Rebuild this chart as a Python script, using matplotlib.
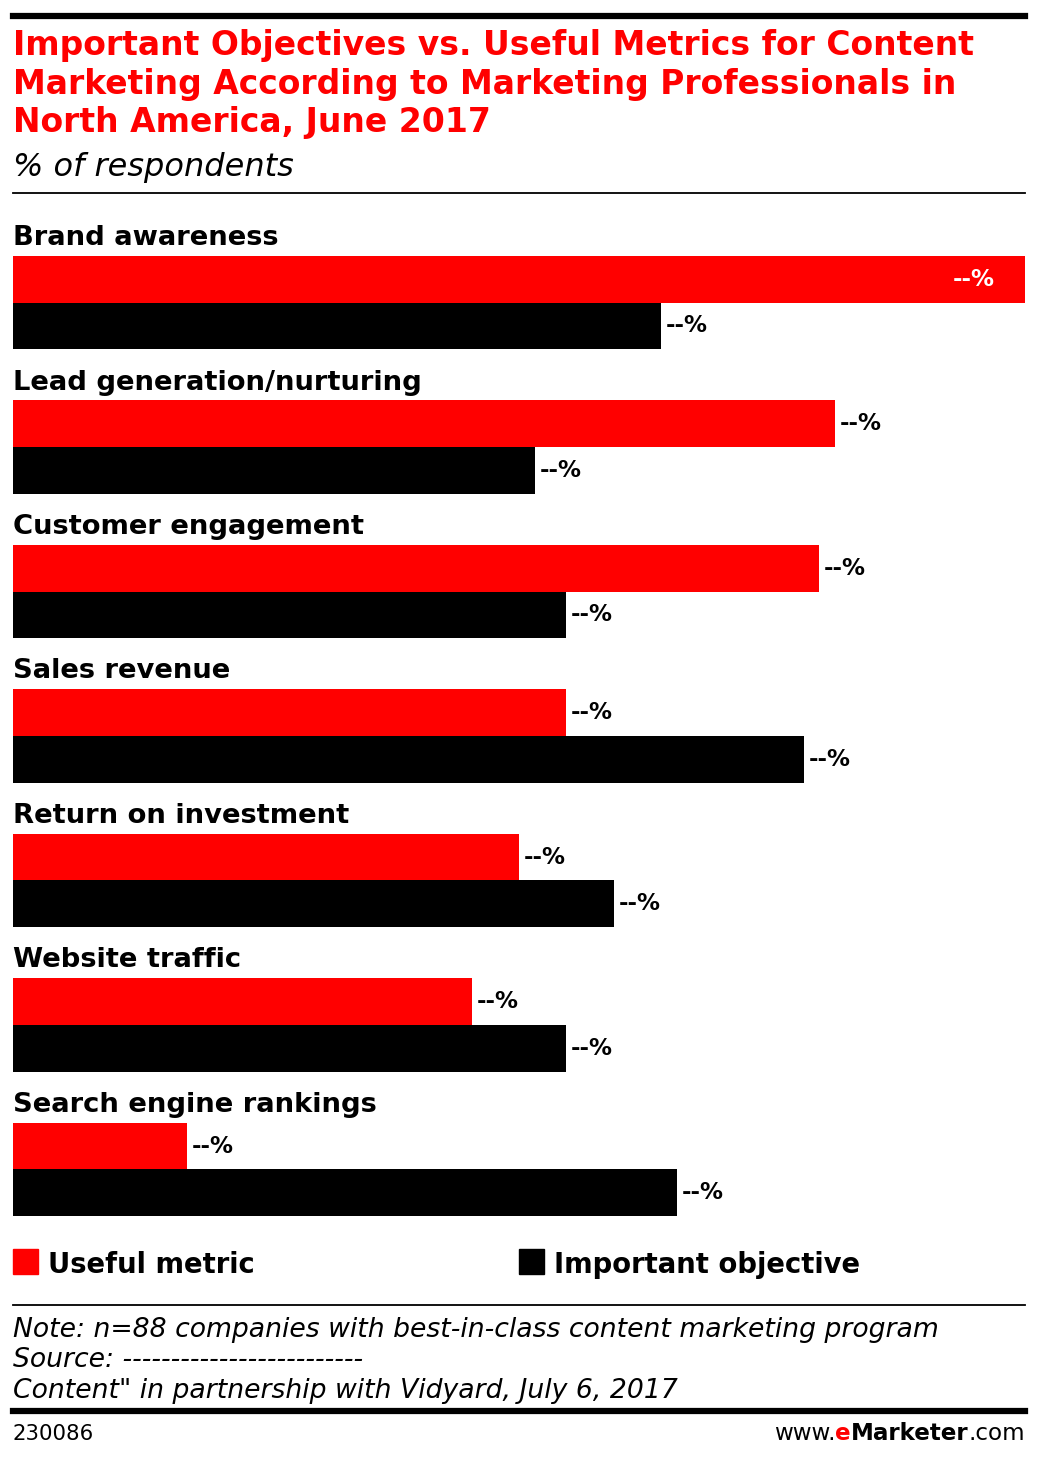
import matplotlib.pyplot as plt
import numpy as np

# Chart data (the labels are masked as "--%")
categories = ['Brand awareness', 'Lead generation/nurturing', 'Customer engagement',
              'Sales revenue', 'Return on investment', 'Website traffic',
              'Search engine rankings']
useful_metric = [64, 52, 51, 35, 32, 29, 11]
important_objective = [41, 33, 35, 50, 38, 35, 42]
value_labels = ['--%'] * len(categories)
series_names = ['Useful metric', 'Important objective']

RED = '#ff0000'
W, H = 1038, 1460


def fx(px):
    return px / W


def fy(py):
    return 1 - py / H


fig = plt.figure(figsize=(W / 100, H / 100), dpi=100)

# Header
fig.add_artist(plt.Line2D([fx(13), fx(1025)], [fy(16), fy(16)], color='black', lw=4.5))
title_lines = ['Important Objectives vs. Useful Metrics for Content',
               'Marketing According to Marketing Professionals in',
               'North America, June 2017']
for line, base in zip(title_lines, (55, 94, 132)):
    fig.text(fx(13), fy(base), line, color=RED, fontsize=23.8, fontweight='bold',
             va='baseline', ha='left')
fig.text(fx(13), fy(176), '% of respondents', fontsize=23, style='italic',
         va='baseline', ha='left')
fig.add_artist(plt.Line2D([fx(13), fx(1025)], [fy(193), fy(193)], color='black', lw=1.3))

# Bars axes: top of first bar at 256px, bottom of last bar at 1216px
bar_h = 0.322
x_max = 64
ax = fig.add_axes([fx(13), fy(1216), fx(1025) - fx(13), fy(256) - fy(1216)])
y = np.arange(len(categories))
ax.barh(y + bar_h / 2, useful_metric, height=bar_h, color=RED, align='center')
ax.barh(y + bar_h * 1.5, important_objective, height=bar_h, color='black', align='center')
ax.set_xlim(0, x_max)
ax.set_ylim(len(categories) - 1 + 2 * bar_h, 0)
ax.axis('off')

for i, cat in enumerate(categories):
    ax.text(0, i - 0.076, cat, fontsize=19.7, fontweight='bold', va='baseline', ha='left')
    for val, off in ((useful_metric[i], 0.5), (important_objective[i], 1.5)):
        if val >= x_max - 2:
            ax.text(val - 1.9, i + bar_h * off, value_labels[i], color='white',
                    fontsize=16.5, fontweight='bold', va='center', ha='right')
        else:
            ax.text(val + 0.3, i + bar_h * off, value_labels[i], color='black',
                    fontsize=16.5, fontweight='bold', va='center', ha='left')

# Legend
for (x0, color, name) in ((13, RED, series_names[0]), (519, 'black', series_names[1])):
    fig.add_artist(plt.Rectangle((fx(x0), fy(1274)), fx(25), 25 / H, color=color))
    fig.text(fx(x0 + 35), fy(1273), name, fontsize=19.8, fontweight='bold',
             va='baseline', ha='left')

# Footer
fig.add_artist(plt.Line2D([fx(13), fx(1025)], [fy(1305), fy(1305)], color='black', lw=1.3))
note_lines = ['Note: n=88 companies with best-in-class content marketing program',
              'Source: -------------------------',
              'Content" in partnership with Vidyard, July 6, 2017']
for line, base in zip(note_lines, (1337, 1367, 1398)):
    fig.text(fx(13), fy(base), line, fontsize=19.2, style='italic',
             va='baseline', ha='left')
fig.add_artist(plt.Line2D([fx(13), fx(1025)], [fy(1411), fy(1411)], color='black', lw=4.5))
fig.text(fx(13), fy(1440), '230086', fontsize=15.3, va='baseline', ha='left')

t = fig.text(fx(1025), fy(1440), '.com', fontsize=16.6, va='baseline', ha='right')
fig.canvas.draw()
r = fig.canvas.get_renderer()
bb = t.get_window_extent(r)
t2 = fig.text(bb.x0 / W, fy(1440), 'Marketer', fontsize=16.6, fontweight='bold',
              va='baseline', ha='right')
bb = t2.get_window_extent(r)
t3 = fig.text(bb.x0 / W, fy(1440), 'e', fontsize=16.6, fontweight='bold', color=RED,
              va='baseline', ha='right')
bb = t3.get_window_extent(r)
fig.text(bb.x0 / W, fy(1440), 'www.', fontsize=16.6, va='baseline', ha='right')

fig.savefig('out.png', dpi=100)
